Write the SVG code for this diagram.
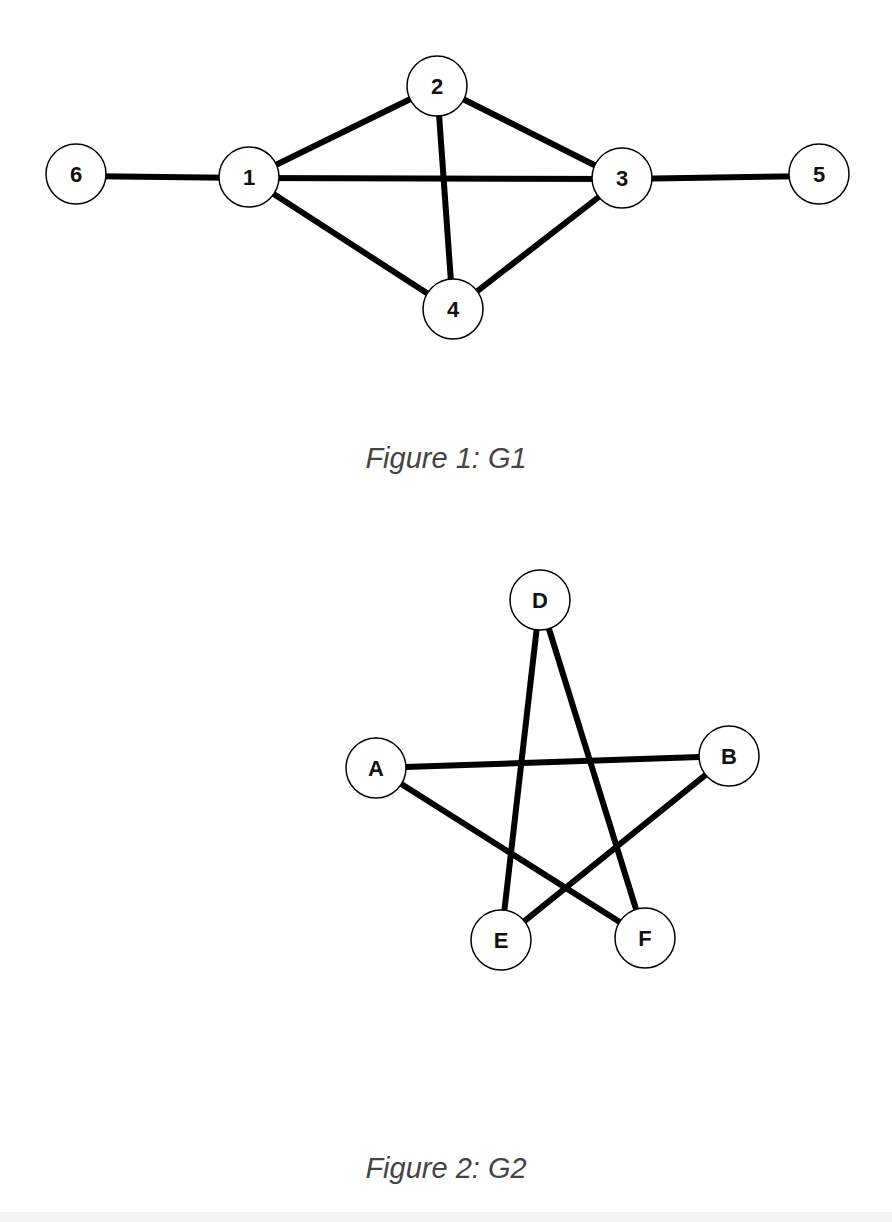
<svg xmlns="http://www.w3.org/2000/svg" width="892" height="1222" viewBox="0 0 892 1222">
<style>
.e{stroke:#000;stroke-width:6;fill:none}
.n circle{fill:#fff;stroke:#000;stroke-width:1.5}
.n text{font-family:"Liberation Sans",Arial,sans-serif;font-weight:bold;font-size:22px;text-anchor:middle;dominant-baseline:central;fill:#111}
.cap{font-family:"Liberation Sans",Arial,sans-serif;font-style:italic;font-size:29px;fill:#444;text-anchor:middle}
</style>
<rect width="892" height="1222" fill="#fff"/>
<rect x="0" y="1212" width="892" height="10" fill="#f3f3f3"/>
<g id="connectors">
<line class="e" x1="76" y1="176" x2="249" y2="178"/>
<line class="e" x1="249" y1="178" x2="437" y2="86"/>
<line class="e" x1="249" y1="178" x2="622" y2="179"/>
<line class="e" x1="249" y1="178" x2="453" y2="310"/>
<line class="e" x1="437" y1="86" x2="622" y2="179"/>
<line class="e" x1="437" y1="86" x2="453" y2="310"/>
<line class="e" x1="622" y1="179" x2="453" y2="310"/>
<line class="e" x1="622" y1="179" x2="819" y2="176"/>
<line class="e" x1="540" y1="600" x2="501" y2="940"/>
<line class="e" x1="540" y1="600" x2="645" y2="938"/>
<line class="e" x1="376" y1="768" x2="729" y2="756"/>
<line class="e" x1="376" y1="768" x2="645" y2="938"/>
<line class="e" x1="729" y1="756" x2="501" y2="940"/>
</g>
<g id="n6" class="n"><circle cx="76" cy="174" r="30"/><text x="76" y="174">6</text></g>
<g id="n1" class="n"><circle cx="249" cy="177" r="30"/><text x="249" y="177">1</text></g>
<g id="n2" class="n"><circle cx="437" cy="86" r="30"/><text x="437" y="86">2</text></g>
<g id="n3" class="n"><circle cx="622" cy="178" r="30"/><text x="622" y="178">3</text></g>
<g id="n5" class="n"><circle cx="819" cy="174" r="30"/><text x="819" y="174">5</text></g>
<g id="n4" class="n"><circle cx="453" cy="309" r="30"/><text x="453" y="309">4</text></g>
<g id="nD" class="n"><circle cx="540" cy="600" r="30"/><text x="540" y="600">D</text></g>
<g id="nA" class="n"><circle cx="376" cy="768" r="30"/><text x="376" y="768">A</text></g>
<g id="nB" class="n"><circle cx="729" cy="756" r="30"/><text x="729" y="756">B</text></g>
<g id="nE" class="n"><circle cx="501" cy="940" r="30"/><text x="501" y="940">E</text></g>
<g id="nF" class="n"><circle cx="645" cy="938" r="30"/><text x="645" y="938">F</text></g>
<text class="cap" x="446" y="468">Figure 1: G1</text>
<text class="cap" x="446" y="1178">Figure 2: G2</text>
</svg>
